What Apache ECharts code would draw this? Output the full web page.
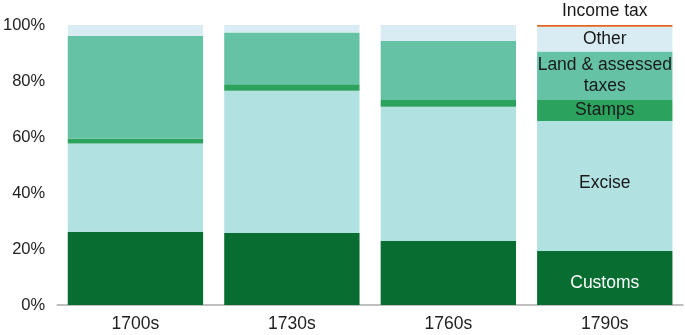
<!DOCTYPE html>
<html><head><meta charset="utf-8">
<script src="https://cdn.jsdelivr.net/npm/echarts@6/dist/echarts.min.js"></script>
<style>html,body{margin:0;padding:0;background:#fff}#c{width:685px;height:335px}</style>
</head><body><div id="c"></div>
<script>
var categories = ['1700s', '1730s', '1760s', '1790s'];
var customs = [26.2, 25.7, 22.9, 19.3];
var excise = [31.5, 50.8, 47.9, 46.4];
var stamps = [1.8, 2.3, 2.4, 7.5];
var land = [36.7, 18.5, 21.1, 17.3];
var other = [3.8, 2.7, 5.7, 8.9];
var incomeTax = [0, 0, 0, 0.6];
var yTicks = [0, 20, 40, 60, 80, 100];

var FONT = 'Liberation Sans, Arial, sans-serif';
var seriesDefs = [
  {name: 'Customs', data: customs, color: '#076d30', text: '#ffffff', label: 'Customs', offset: [0, 5]},
  {name: 'Excise', data: excise, color: '#b2e1e1', text: '#1a1a1a', label: 'Excise', offset: [0, -3]},
  {name: 'Stamps', data: stamps, color: '#2ca25f', text: '#1a1a1a', label: 'Stamps', offset: [0, 0]},
  {name: 'Land & assessed taxes', data: land, color: '#66c2a4', text: '#1a1a1a', label: 'Land & assessed\ntaxes', offset: [0, 0]},
  {name: 'Other', data: other, color: '#d9ecf3', text: '#1a1a1a', label: 'Other', offset: [0, 0]},
  {name: 'Income tax', data: incomeTax, color: '#e0661c', text: '#1a1a1a', label: 'Income tax', offset: [0, 0], top: true}
];

var series = seriesDefs.map(function (d) {
  return {
    name: d.name,
    type: 'bar',
    stack: 'all',
    barCategoryGap: '13.5%',
    itemStyle: {color: d.color},
    emphasis: {disabled: true},
    data: d.data.map(function (v, i) {
      var item = {value: v};
      if (i === d.data.length - 1) {
        item.label = {
          show: true,
          position: d.top ? 'top' : 'inside',
          distance: 3,
          offset: d.offset,
          formatter: d.label,
          color: d.text,
          fontSize: 17.5,
          lineHeight: 21,
          fontFamily: FONT
        };
      }
      return item;
    })
  };
});

var chart = echarts.init(document.getElementById('c'), null, {renderer: 'canvas'});
chart.setOption({
  animation: false,
  grid: {left: 55, right: 2, top: 25, bottom: 30},
  xAxis: {
    type: 'category',
    data: categories,
    axisLine: {lineStyle: {color: '#aaaaaa', width: 1.5}},
    axisTick: {show: false},
    axisLabel: {color: '#222', fontSize: 17.5, margin: 10, fontFamily: FONT}
  },
  yAxis: {
    type: 'value',
    min: yTicks[0],
    max: yTicks[yTicks.length - 1],
    interval: 20,
    splitLine: {show: false},
    axisLine: {show: false},
    axisTick: {show: false},
    axisLabel: {color: '#222', fontSize: 16.5, margin: 12, formatter: '{value}%', fontFamily: FONT}
  },
  series: series
});
</script>
</body></html>
